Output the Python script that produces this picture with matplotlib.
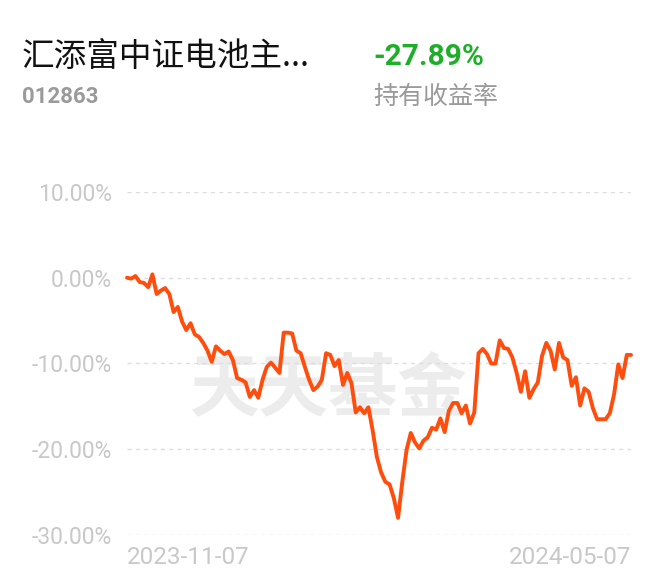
import matplotlib
matplotlib.use("Agg")
import matplotlib.pyplot as plt
import numpy as np

# ---- data ----
fund_name = "汇添富中证电池主..."
fund_code = "012863"
hold_return = "-27.89%"
hold_label = "持有收益率"
start_date = "2023-11-07"
end_date = "2024-05-07"
y_ticks = [10, 0, -10, -20, -30]
y_tick_labels = ["10.00%", "0.00%", "-10.00%", "-20.00%", "-30.00%"]

returns = [
    0.0, -0.1, 0.2, -0.5, -0.6, -1.1, 0.4, -1.9, -1.5, -1.2,
    -1.9, -4.0, -3.4, -5.1, -6.1, -5.3, -6.6, -6.9, -7.6, -8.5,
    -9.8, -8.0, -8.5, -8.9, -8.6, -9.6, -11.7, -11.9, -12.2, -13.9,
    -13.1, -14.0, -11.9, -10.4, -9.9, -10.5, -11.1, -6.4, -6.4, -6.5,
    -8.5, -8.8, -10.4, -11.9, -13.1, -12.7, -11.9, -8.8, -9.0, -10.3,
    -9.6, -12.5, -11.1, -12.3, -15.7, -15.1, -15.8, -15.1, -17.8, -20.9,
    -22.7, -23.8, -24.1, -25.7, -28.0, -23.8, -20.1, -18.1, -19.2, -19.9,
    -19.0, -18.6, -17.5, -17.7, -16.4, -18.0, -15.5, -14.6, -14.6, -15.8,
    -14.9, -17.0, -15.7, -8.8, -8.3, -8.9, -10.0, -10.0, -7.3, -8.2,
    -8.3, -9.3, -11.1, -13.3, -10.9, -14.0, -13.0, -12.2, -9.1, -7.6,
    -8.5, -10.7, -7.6, -9.3, -9.6, -12.6, -11.6, -14.9, -12.9, -13.3,
    -15.2, -16.5, -16.5, -16.5, -15.8, -13.6, -10.1, -11.7, -9.0, -9.0,
]

# ---- figure ----
W, H = 660, 585
fig = plt.figure(figsize=(W / 100, H / 100), dpi=100)
fig.patch.set_facecolor("white")

cjk = ["Noto Sans CJK SC", "DejaVu Sans"]
num = ["Roboto", "DejaVu Sans"]

# header
fig.text(22 / W, 1 - 57 / H, fund_name, family=cjk, fontsize=23.5, color="#111111",
         va="center", ha="left")
fig.text(22 / W, 1 - 97 / H, fund_code, family=num, fontsize=16, fontweight="bold",
         color="#9a9a9a", va="center", ha="left")
fig.text(373 / W, 1 - 57 / H, hold_return, family=num, fontsize=21.5, fontweight="bold",
         color="#1fae2a", va="center", ha="left")
fig.text(373 / W, 1 - 97 / H, hold_label, family=cjk, fontsize=18, color="#9a9a9a",
         va="center", ha="left")

# axes
left, right, top, bottom = 127, 631, 192, 535
ax = fig.add_axes([left / W, 1 - bottom / H, (right - left) / W, (bottom - top) / H])
ax.set_facecolor("none")

# watermark
ax.text(0.40, 0.42, "天天基金", transform=ax.transAxes, family=cjk, fontsize=50,
        fontweight="bold", color="#ececec", ha="center", va="center", zorder=0)

x = np.arange(len(returns))
for yv in y_ticks:
    ax.axhline(yv, color="#dedede", lw=1.0, ls=(0, (3, 3)), zorder=1)

ax.plot(x, returns, color="#ff4d0d", lw=2.8, solid_joinstyle="round",
        solid_capstyle="round", zorder=3, clip_on=False)

ax.set_xlim(0, len(returns) - 1)
ax.set_ylim(-30, 10)
ax.set_yticks(y_ticks)
ax.set_yticklabels(y_tick_labels, family=num, fontsize=16.5, color="#c8c8c8")
ax.set_xticks([0, len(returns) - 1])
ax.set_xticklabels([start_date, end_date], family=num, fontsize=17.5, color="#c8c8c8")
xl = ax.get_xticklabels()
xl[0].set_ha("left")
xl[1].set_ha("right")
ax.tick_params(axis="y", length=0, pad=11)
ax.tick_params(axis="x", length=0, pad=8)
for s in ax.spines.values():
    s.set_visible(False)

fig.savefig("out.png", dpi=100, facecolor="white")
